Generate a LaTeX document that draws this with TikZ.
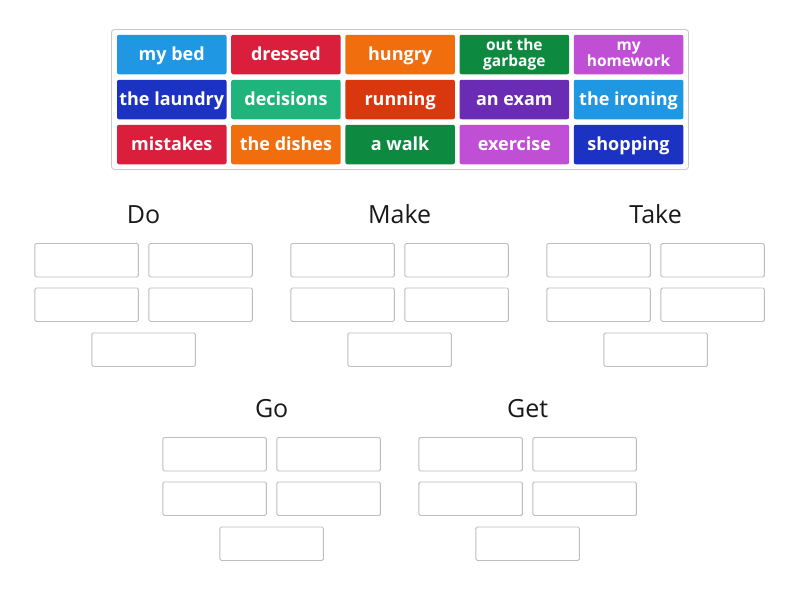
\documentclass[tikz,border=0pt]{standalone}
\usepackage{fontspec}
\setmainfont{Open Sans}
\definecolor{cLblue}{HTML}{1F97E2}
\definecolor{cCrimson}{HTML}{DA1F3D}
\definecolor{cOrange}{HTML}{F06E0E}
\definecolor{cGreen}{HTML}{0D8A3F}
\definecolor{cMagenta}{HTML}{C04FD5}
\definecolor{cDblue}{HTML}{1C32C2}
\definecolor{cTeal}{HTML}{1EB47B}
\definecolor{cRedor}{HTML}{D9380F}
\definecolor{cPurple}{HTML}{6A2BB5}
\definecolor{slotgray}{HTML}{BDBDBD}
\definecolor{panelgray}{HTML}{C8C8C8}
\tikzset{
  tile/.style={rectangle, rounded corners=2pt, minimum width=109.5pt, minimum height=39.5pt,
    inner sep=0pt, text=white, font=\fontsize{18}{19}\selectfont\bfseries, align=center,
    text height=14pt, text depth=3pt},
  tiletwo/.style={rectangle, rounded corners=2pt, minimum width=109.5pt, minimum height=39.5pt,
    inner sep=0pt, text=white, font=\fontsize{15.5}{16.5}\selectfont\bfseries, align=center},
  slot/.style={draw=slotgray, line width=0.9pt, rounded corners=1.5pt, minimum width=103.5pt,
    minimum height=33.5pt, inner sep=0pt},
  head/.style={font=\fontsize{25}{28}\selectfont, text=black!90, inner sep=0pt}
}
\begin{document}
\begin{tikzpicture}[x=1pt,y=-1pt]
\useasboundingbox (0,0) rectangle (800,600);
\fill[white] (0,0) rectangle (800,600);
\draw[panelgray, line width=0.9pt, rounded corners=3pt, fill=white] (111.5,29.5) rectangle (688.5,169.5);
% row 1
\node[tile, fill=cLblue]    (t11) at (171.75,54.5) {my bed};
\node[tile, fill=cCrimson]  (t12) at (285.95,54.5) {dressed};
\node[tile, fill=cOrange]   (t13) at (400.15,54.5) {hungry};
\node[tiletwo, fill=cGreen] (t14) at (514.35,54.5) {out the\\garbage};
\node[tiletwo, fill=cMagenta] (t15) at (628.55,54.5) {my\\homework};
% row 2
\node[tile, fill=cDblue]    (t21) at (171.75,99.5) {the laundry};
\node[tile, fill=cTeal]     (t22) at (285.95,99.5) {decisions};
\node[tile, fill=cRedor]    (t23) at (400.15,99.5) {running};
\node[tile, fill=cPurple]   (t24) at (514.35,99.5) {an exam};
\node[tile, fill=cLblue]    (t25) at (628.55,99.5) {the ironing};
% row 3
\node[tile, fill=cCrimson]  (t31) at (171.75,144.5) {mistakes};
\node[tile, fill=cOrange]   (t32) at (285.95,144.5) {the dishes};
\node[tile, fill=cGreen]    (t33) at (400.15,144.5) {a walk};
\node[tile, fill=cMagenta]  (t34) at (514.35,144.5) {exercise};
\node[tile, fill=cDblue]    (t35) at (628.55,144.5) {shopping};
% groups
\foreach \nm/\lab/\cx/\hy in {do/Do/143.65/214.5, make/Make/399.65/214.5, take/Take/655.65/214.5,
                              go/Go/271.65/408.5, get/Get/527.65/408.5}{
  \node[head] (h\nm) at (\cx,\hy) {\lab};
  \node[slot] (\nm a) at (\cx-57,\hy+45.7) {};
  \node[slot] (\nm b) at (\cx+57,\hy+45.7) {};
  \node[slot] (\nm c) at (\cx-57,\hy+90.2) {};
  \node[slot] (\nm d) at (\cx+57,\hy+90.2) {};
  \node[slot] (\nm e) at (\cx,\hy+135.2) {};
}
\end{tikzpicture}
\end{document}
